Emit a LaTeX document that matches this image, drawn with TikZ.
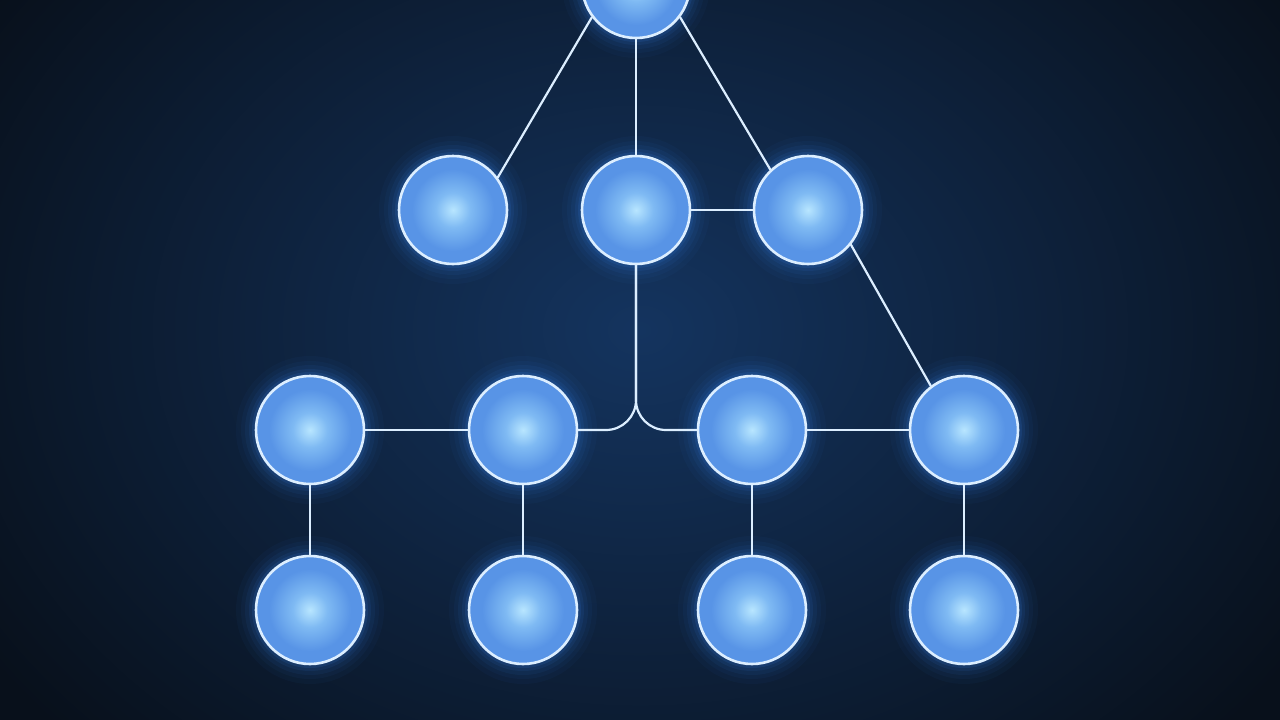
\documentclass[tikz,border=0pt]{standalone}
\definecolor{bgin}{HTML}{14345F}
\definecolor{bgout}{HTML}{08101B}
\definecolor{nin}{HTML}{B8E6FF}
\definecolor{nmid}{HTML}{7FBAF3}
\definecolor{nout}{HTML}{5894E6}
\definecolor{glowc}{HTML}{3C8EFF}
\definecolor{edgec}{HTML}{DCEEFF}
\pgfdeclareradialshading{ball}{\pgfpoint{0bp}{0bp}}{color(0bp)=(nin); color(8bp)=(nmid); color(19bp)=(nout); color(25bp)=(nout); color(50bp)=(nout)}
\begin{document}
\begin{tikzpicture}[x=1pt,y=-1pt,
  ballnode/.style={circle, minimum size=108pt, inner sep=0pt, draw=edgec, line width=2.6pt, shading=ball},
  link/.style={draw=edgec, line width=2.2pt, line cap=round}]
\useasboundingbox (0,0) rectangle (1280,720);
\fill[bgout] (0,0) rectangle (1280,720);
\shade[inner color=bgin, outer color=bgout] (640,330) ellipse [x radius=780pt, y radius=600pt];
% positions
\coordinate (pr) at (636,-16);
\coordinate (pa1) at (453,210);
\coordinate (pa2) at (636,210);
\coordinate (pa3) at (808,210);
\coordinate (pb1) at (310,430);
\coordinate (pb2) at (523,430);
\coordinate (pb3) at (752,430);
\coordinate (pb4) at (964,430);
\coordinate (pc1) at (310,610);
\coordinate (pc2) at (523,610);
\coordinate (pc3) at (752,610);
\coordinate (pc4) at (964,610);
% glow
\foreach \p in {pr,pa1,pa2,pa3,pb1,pb2,pb3,pb4,pc1,pc2,pc3,pc4}{
  \foreach \rr/\oo in {74/0.035,69/0.045,65/0.06,61/0.08,58/0.11}{
    \fill[glowc, opacity=\oo] (\p) circle (\rr pt);
  }
}
% nodes
\node[ballnode] (r) at (pr) {};
\node[ballnode] (a1) at (pa1) {};
\node[ballnode] (a2) at (pa2) {};
\node[ballnode] (a3) at (pa3) {};
\node[ballnode] (b1) at (pb1) {};
\node[ballnode] (b2) at (pb2) {};
\node[ballnode] (b3) at (pb3) {};
\node[ballnode] (b4) at (pb4) {};
\node[ballnode] (c1) at (pc1) {};
\node[ballnode] (c2) at (pc2) {};
\node[ballnode] (c3) at (pc3) {};
\node[ballnode] (c4) at (pc4) {};
% connectors
\draw[link] (r.217) -- (a1.36);
\draw[link] (r.south) -- (a2.north);
\draw[link] (r.323) -- (a3.133);
\draw[link] (a2.east) -- (a3.west);
\draw[link] (a3.321) -- (b4.127);
\draw[link, rounded corners=30pt] (a2.south) |- (b2.east);
\draw[link, rounded corners=30pt] (a2.south) |- (b3.west);
\draw[link] (b1.east) -- (b2.west);
\draw[link] (b3.east) -- (b4.west);
\draw[link] (b1.south) -- (c1.north);
\draw[link] (b2.south) -- (c2.north);
\draw[link] (b3.south) -- (c3.north);
\draw[link] (b4.south) -- (c4.north);
\end{tikzpicture}
\end{document}
